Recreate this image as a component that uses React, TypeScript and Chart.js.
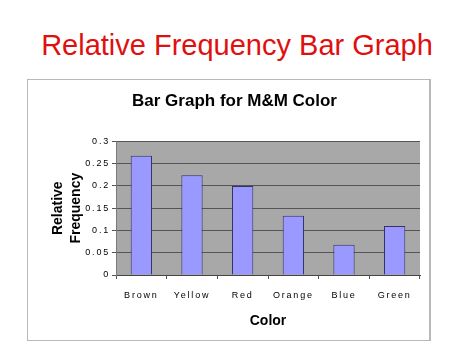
import React, { useEffect, useRef } from "react";
import { Chart, registerables } from "chart.js";

Chart.register(...registerables);

const categories = ["Brown", "Yellow", "Red", "Orange", "Blue", "Green"];
const relFreq = [0.268, 0.224, 0.2, 0.133, 0.068, 0.11];
const yTickLabels = ["0", "0.05", "0.1", "0.15", "0.2", "0.25", "0.3"];
const pageTitle = "Relative Frequency Bar Graph";
const chartTitle = "Bar Graph for M&M Color";
const xTitle = "Color";
const yTitle = ["Relative", "Frequency"];

const FONT = "'Liberation Sans', Arial, Helvetica, sans-serif";

const plotBg = {
  id: "plotBg",
  beforeDraw(chart: any) {
    const { ctx, chartArea } = chart;
    ctx.save();
    ctx.fillStyle = "#a8a8a8";
    ctx.fillRect(chartArea.left, chartArea.top, chartArea.right - chartArea.left, chartArea.bottom - chartArea.top);
    ctx.restore();
  },
  afterDatasetsDraw(chart: any) {
    (chart.ctx as any).letterSpacing = "1.8px";
  },
  afterDraw(chart: any) {
    (chart.ctx as any).letterSpacing = "0px";
  },
};

export default function App() {
  const ref = useRef<HTMLCanvasElement | null>(null);
  useEffect(() => {
    if (!ref.current) return;
    const chart = new Chart(ref.current, {
      type: "bar",
      data: {
        labels: categories,
        datasets: [
          {
            data: relFreq,
            backgroundColor: "#9999ff",
            borderColor: "#333366",
            borderWidth: 1,
            categoryPercentage: 1,
            barPercentage: 0.42,
          },
        ],
      },
      plugins: [plotBg],
      options: {
        responsive: false,
        animation: false,
        layout: { padding: { left: 21, right: 9, top: 0, bottom: 10 } },
        plugins: {
          legend: { display: false },
          tooltip: { enabled: false },
          title: {
            display: true,
            text: chartTitle,
            color: "#000",
            font: { family: FONT, size: 17, weight: "bold", lineHeight: 1.2 },
            padding: { top: 11, bottom: 30 },
          },
        },
        scales: {
          x: {
            afterFit: (s: any) => {
              s.height = 55;
            },
            grid: {
              offset: true,
              drawOnChartArea: false,
              drawTicks: true,
              tickLength: 4,
              color: "#555",
            },
            border: { display: true, color: "#444", width: 1 },
            ticks: {
              z: 1,
              color: "#000",
              padding: 11,
              font: { family: FONT, size: 9 },
              maxRotation: 0,
              autoSkip: false,
            },
            title: {
              display: true,
              text: xTitle,
              color: "#000",
              font: { family: FONT, size: 14, weight: "bold", lineHeight: 1.2 },
              padding: { top: 0, bottom: 0 },
            },
          },
          y: {
            min: 0,
            max: 0.3,
            afterFit: (s: any) => {
              s.width = 67;
            },
            ticks: {
              z: 1,
              stepSize: 0.05,
              color: "#000",
              padding: 2,
              font: { family: FONT, size: 9 },
              callback: (_v: any, i: number) => yTickLabels[i],
            },
            grid: {
              color: "#555",
              lineWidth: 1,
              drawTicks: true,
              tickLength: 4,
            },
            border: { display: true, color: "#7a7a7a", width: 1 },
            title: {
              display: true,
              text: yTitle,
              color: "#000",
              font: { family: FONT, size: 14, weight: "bold", lineHeight: 18 / 14 },
              padding: { top: 0, bottom: 0 },
            },
          },
        },
      },
    } as any);
    return () => chart.destroy();
  }, []);

  return (
    <div style={{ position: "fixed", left: 0, top: 0, width: 474, height: 355, background: "#fff", overflow: "hidden" }}>
      <div
        style={{
          position: "absolute",
          left: 0,
          width: 474,
          top: 30.5,
          textAlign: "center",
          fontFamily: FONT,
          fontSize: 29,
          lineHeight: "29px",
          color: "#e01010",
          whiteSpace: "nowrap",
        }}
      >
        <span style={{ position: "relative", left: 0 }}>{pageTitle}</span>
      </div>
      <div
        style={{
          position: "absolute",
          left: 27,
          top: 79,
          width: 404,
          height: 262,
          boxSizing: "border-box",
          borderStyle: "solid",
          borderColor: "#b8b8b8",
          borderWidth: "1px 2px 1px 1px",
        }}
      >
        <canvas ref={ref} width={401} height={260} style={{ display: "block", width: 401, height: 260 }} />
      </div>
    </div>
  );
}
